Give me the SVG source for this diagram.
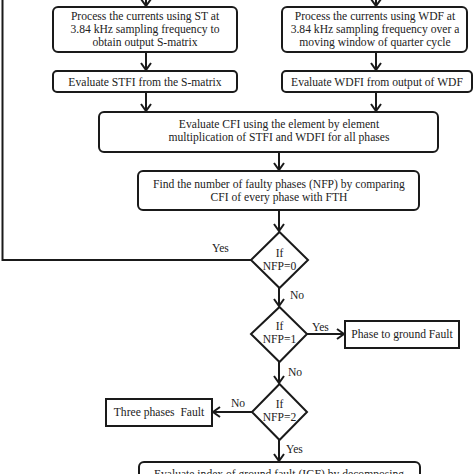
<svg xmlns="http://www.w3.org/2000/svg" width="474" height="474" viewBox="0 0 474 474">
<defs>
<marker id="arr" markerWidth="12" markerHeight="12" refX="9" refY="6" orient="auto" markerUnits="userSpaceOnUse">
<path d="M2,1 L9,6 L2,11" fill="none" stroke="#1a1a1a" stroke-width="2"/>
</marker>
</defs>
<style>
.box{fill:#fff;stroke:#1a1a1a;stroke-width:2}
.t{font-family:"Liberation Serif","Times New Roman",serif;font-size:11.6px;fill:#222;text-anchor:middle}
.l{font-family:"Liberation Serif","Times New Roman",serif;font-size:11.6px;fill:#222}
.c{fill:none;stroke:#1a1a1a;stroke-width:2}
</style>
<rect width="474" height="474" fill="#fff"/>
<g id="connectors">
<line class="c" x1="146" y1="0" x2="146" y2="6" marker-end="url(#arr)"/>
<line class="c" x1="376" y1="0" x2="376" y2="6" marker-end="url(#arr)"/>
<line class="c" x1="146" y1="52" x2="146" y2="70" marker-end="url(#arr)"/>
<line class="c" x1="376" y1="52" x2="376" y2="70" marker-end="url(#arr)"/>
<line class="c" x1="146" y1="92" x2="146" y2="111" marker-end="url(#arr)"/>
<line class="c" x1="376" y1="92" x2="376" y2="111" marker-end="url(#arr)"/>
<line class="c" x1="279" y1="152" x2="279" y2="170" marker-end="url(#arr)"/>
<line class="c" x1="279" y1="210" x2="279" y2="231" marker-end="url(#arr)"/>
<polyline class="c" points="251,260 2.5,260 2.5,0"/>
<line class="c" x1="279" y1="288" x2="279" y2="306" marker-end="url(#arr)"/>
<line class="c" x1="307" y1="334" x2="344" y2="334" marker-end="url(#arr)"/>
<line class="c" x1="279" y1="362" x2="279" y2="383" marker-end="url(#arr)"/>
<line class="c" x1="252" y1="412" x2="213" y2="412" marker-end="url(#arr)"/>
<line class="c" x1="279" y1="440" x2="279" y2="461" marker-end="url(#arr)"/>
<text class="l" x="212" y="252">Yes</text>
<text class="l" x="290" y="299">No</text>
<text class="l" x="312" y="331">Yes</text>
<text class="l" x="288" y="376">No</text>
<text class="l" x="231" y="407">No</text>
<text class="l" x="286" y="453">Yes</text>
</g>
<g id="st">
<rect class="box" x="53" y="7" width="184" height="45" rx="5"/>
<text class="t" x="145" y="20">Process the currents using ST at</text>
<text class="t" x="145" y="33">3.84 kHz sampling frequency to</text>
<text class="t" x="145" y="46">obtain output S-matrix</text>
</g>
<g id="wdf">
<rect class="box" x="282" y="7" width="185" height="45" rx="5"/>
<text class="t" x="375" y="20">Process the currents using WDF at</text>
<text class="t" x="375" y="33">3.84 kHz sampling frequency over a</text>
<text class="t" x="375" y="46">moving window of quarter cycle</text>
</g>
<g id="stfi">
<rect class="box" x="53" y="71" width="184" height="21" rx="4"/>
<text class="t" x="145" y="86">Evaluate STFI from the S-matrix</text>
</g>
<g id="wdfi">
<rect class="box" x="282" y="71" width="190" height="21" rx="4"/>
<text class="t" x="377" y="86">Evaluate WDFI from output of WDF</text>
</g>
<g id="cfi">
<rect class="box" x="99" y="112" width="339" height="40" rx="5"/>
<text class="t" x="279" y="128">Evaluate CFI using the element by element</text>
<text class="t" x="279" y="141">multiplication of STFI and WDFI for all phases</text>
</g>
<g id="nfp">
<rect class="box" x="138" y="171" width="281" height="39" rx="5"/>
<text class="t" x="279" y="188">Find the number of faulty phases (NFP) by comparing</text>
<text class="t" x="279" y="201">CFI of every phase with FTH</text>
</g>
<g id="d0">
<polygon class="box" points="279.5,232 308,260 279.5,288 251,260"/>
<text class="t" x="279.5" y="257">If</text>
<text class="t" x="279.5" y="270">NFP=0</text>
</g>
<g id="d1">
<polygon class="box" points="279.5,307 307,334 279.5,362 251,334"/>
<text class="t" x="279.5" y="330">If</text>
<text class="t" x="279.5" y="343">NFP=1</text>
</g>
<g id="pg">
<rect class="box" x="345" y="321" width="114" height="27"/>
<text class="t" x="402" y="338">Phase to ground Fault</text>
</g>
<g id="d2">
<polygon class="box" points="279.5,384 307,412 279.5,440 252,412"/>
<text class="t" x="279.5" y="408">If</text>
<text class="t" x="279.5" y="421">NFP=2</text>
</g>
<g id="tp">
<rect class="box" x="106" y="399" width="106" height="27"/>
<text class="t" x="159" y="416" xml:space="preserve">Three phases  Fault</text>
</g>
<g id="igf">
<rect class="box" x="139" y="462" width="281" height="30" rx="5"/>
<text class="t" x="279" y="478">Evaluate index of ground fault (IGF) by decomposing</text>
</g>
</svg>
